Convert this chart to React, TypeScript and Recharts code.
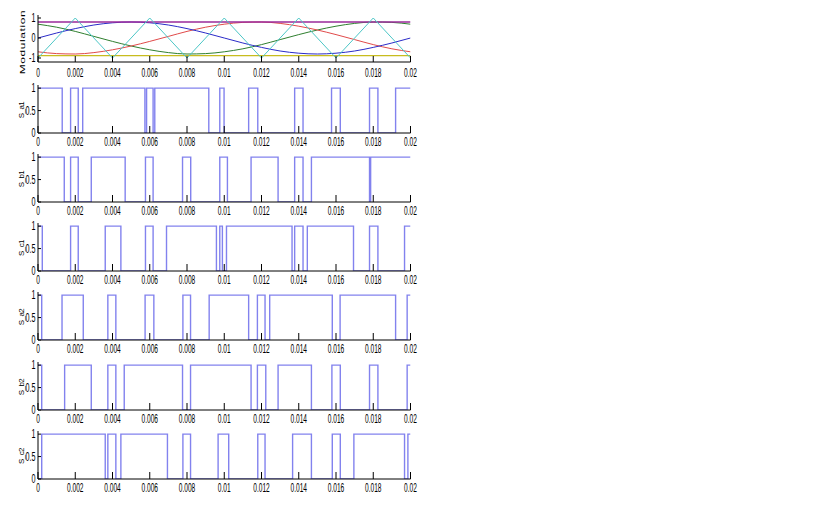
import React from 'react';
import { LineChart, Line, XAxis, YAxis } from 'recharts';

// ---------- axis ticks ----------
const xTicks = [0, 0.002, 0.004, 0.006, 0.008, 0.01, 0.012, 0.014, 0.016, 0.018, 0.02];
const xTickLabels = ['0', '0.002', '0.004', '0.006', '0.008', '0.01', '0.012', '0.014', '0.016', '0.018', '0.02'];
const modTicks = [-1, 0, 1];
const modTickLabels = ['-1', '0', '1'];
const stepTicks = [0, 0.5, 1];
const stepTickLabels = ['0', '0.5', '1'];

// ---------- modulation panel ----------
const sampleTimes = [0, 0.001, 0.002, 0.003, 0.004, 0.005, 0.006, 0.007, 0.008, 0.009, 0.01, 0.011, 0.012, 0.013, 0.014, 0.015, 0.016, 0.017, 0.018, 0.019, 0.02];
const blueVals = [0, 0.25, 0.47, 0.65, 0.76, 0.8, 0.76, 0.65, 0.47, 0.25, 0, -0.25, -0.47, -0.65, -0.76, -0.8, -0.76, -0.65, -0.47, -0.25, 0];
const redVals = [-0.69, -0.78, -0.8, -0.73, -0.59, -0.4, -0.17, 0.08, 0.33, 0.54, 0.69, 0.78, 0.8, 0.73, 0.59, 0.4, 0.17, -0.08, -0.33, -0.54, -0.69];
const greenVals = [0.69, 0.54, 0.33, 0.08, -0.17, -0.4, -0.59, -0.73, -0.8, -0.78, -0.69, -0.54, -0.33, -0.08, 0.17, 0.4, 0.59, 0.73, 0.8, 0.78, 0.69];
const carrierTimes = [0, 0.002, 0.004, 0.006, 0.008, 0.01, 0.012, 0.014, 0.016, 0.018, 0.02];
const carrierVals = [-1, 1, -1, 1, -1, 1, -1, 1, -1, 1, -1];
const upperLevel = [0.8, 0.8];
const lowerLevel = [-0.88, -0.88];
const levelTimes = [0, 0.02];

// ---------- switching signals: initial state + switching instants ----------
const sa1Init = 1;
const sa1Switch = [0.0013, 0.00175, 0.00216, 0.0024, 0.00574, 0.00583, 0.00618, 0.00627, 0.00917, 0.00976, 0.00999, 0.01131, 0.0118, 0.01378, 0.01423, 0.01576, 0.01623, 0.0178, 0.01825, 0.0192];
const sb1Init = 1;
const sb1Switch = [0.00141, 0.00175, 0.00216, 0.00286, 0.00468, 0.00577, 0.00618, 0.00776, 0.0082, 0.00976, 0.01017, 0.01144, 0.01289, 0.01378, 0.01423, 0.01468, 0.0178, 0.01786];
const sc1Init = 1;
const sc1Switch = [0.00023, 0.00175, 0.00216, 0.00361, 0.00445, 0.00577, 0.00618, 0.0069, 0.00958, 0.00976, 0.0099, 0.01012, 0.01364, 0.01378, 0.01423, 0.01446, 0.01694, 0.0178, 0.01825, 0.01968];
const sa2Init = 1;
const sa2Switch = [0.0002, 0.00129, 0.00243, 0.00375, 0.00418, 0.00575, 0.00622, 0.00778, 0.00819, 0.00919, 0.01131, 0.01178, 0.01219, 0.01244, 0.0158, 0.01622, 0.0192, 0.01982];
const sb2Init = 1;
const sb2Switch = [0.0002, 0.00143, 0.00286, 0.00375, 0.00418, 0.00463, 0.00776, 0.00819, 0.01144, 0.01178, 0.01223, 0.01289, 0.01468, 0.01578, 0.01623, 0.0178, 0.01825, 0.01982];
const sc2Init = 0;
const sc2Switch = [0.0002, 0.00361, 0.00375, 0.00418, 0.00445, 0.00695, 0.00778, 0.00819, 0.00967, 0.01024, 0.0118, 0.01219, 0.01367, 0.01468, 0.0158, 0.01623, 0.01696, 0.01968, 0.01986];

const stepLabels = ['S_a1', 'S_b1', 'S_c1', 'S_a2', 'S_b2', 'S_c2'];

// ---------- helpers ----------
const zipSeries = (ts: number[], vs: number[]) => ts.map((t, i) => ({ t, v: vs[i] }));
const buildSteps = (init: number, sw: number[]) => {
  const out = [{ t: 0, v: init }];
  let v = init;
  sw.forEach((t) => {
    v = 1 - v;
    out.push({ t, v });
  });
  out.push({ t: 0.02, v });
  return out;
};

const stepSeries = [
  buildSteps(sa1Init, sa1Switch),
  buildSteps(sb1Init, sb1Switch),
  buildSteps(sc1Init, sc1Switch),
  buildSteps(sa2Init, sa2Switch),
  buildSteps(sb2Init, sb2Switch),
  buildSteps(sc2Init, sc2Switch),
];

// ---------- layout ----------
const CHART_W = 430;
const Y_AXIS_W = 38;
const RIGHT_M = 19.5;
const STEP_BOTTOMS = [133, 202, 271, 340, 410, 479];
const STEP_PLOT_H = 48;
const TOP_PLOT_TOP = 15;
const TOP_PLOT_H = 47;
const X_AXIS_H = 18;
const FONT = 'Liberation Sans, Arial, Helvetica, sans-serif';

const makeXTick = (len: number, base: number) => (props: any) => {
  const { x, y, payload } = props;
  const idx = xTicks.findIndex((v) => Math.abs(v - payload.value) < 1e-9);
  const label = idx >= 0 ? xTickLabels[idx] : String(payload.value);
  return (
    <g>
      <line x1={x} x2={x} y1={y} y2={y - len} stroke="#000" strokeWidth={1} />
      <text
        transform={`translate(${x},${y + base}) scale(0.55,1)`}
        textAnchor="middle"
        fontSize={12}
        fontFamily={FONT}
        fill="#000"
      >
        {label}
      </text>
    </g>
  );
};

const makeYTick = (ticks: number[], labels: string[]) => (props: any) => {
  const { x, y, payload } = props;
  const idx = ticks.findIndex((v) => Math.abs(v - payload.value) < 1e-9);
  const label = idx >= 0 ? labels[idx] : String(payload.value);
  return (
    <g>
      <line x1={x} x2={x + 3} y1={y} y2={y} stroke="#000" strokeWidth={1} />
      <text
        transform={`translate(${x - 2.5},${y + 4}) scale(0.6,1)`}
        textAnchor="end"
        fontSize={12}
        fontFamily={FONT}
        fill="#000"
      >
        {label}
      </text>
    </g>
  );
};

const xTickTop = makeXTick(6, 15);
const xTickStep = makeXTick(7, 13);
const yTickMod = makeYTick(modTicks, modTickLabels);
const yTickStep = makeYTick(stepTicks, stepTickLabels);

export default function App() {
  return (
    <div style={{ position: 'absolute', left: 0, top: 0, width: 819, height: 526, background: '#fff', overflow: 'hidden' }}>
      {/* Modulation panel */}
      <div style={{ position: 'absolute', left: 0, top: 0 }}>
        <LineChart
          width={CHART_W}
          height={TOP_PLOT_TOP + TOP_PLOT_H + X_AXIS_H}
          margin={{ top: TOP_PLOT_TOP, right: RIGHT_M, bottom: 0, left: 0 }}
        >
          <XAxis
            dataKey="t"
            type="number"
            domain={[0, 0.02]}
            ticks={xTicks}
            interval={0}
            height={X_AXIS_H}
            tickSize={0}
            tickMargin={0}
            tick={xTickTop}
            axisLine={{ stroke: '#000', strokeWidth: 1 }}
            allowDataOverflow
          />
          <YAxis
            type="number"
            domain={[-1.2, 1.15]}
            ticks={modTicks}
            interval={0}
            width={Y_AXIS_W}
            tickSize={0}
            tickMargin={0}
            tick={yTickMod}
            axisLine={{ stroke: '#000', strokeWidth: 1 }}
            allowDataOverflow
          />
          <Line data={zipSeries(levelTimes, lowerLevel)} dataKey="v" type="linear" stroke="#c8bc1e" strokeWidth={1.3} dot={false} isAnimationActive={false} />
          <Line data={zipSeries(sampleTimes, greenVals)} dataKey="v" type="monotone" stroke="#2f7f2f" strokeWidth={1} dot={false} isAnimationActive={false} />
          <Line data={zipSeries(sampleTimes, redVals)} dataKey="v" type="monotone" stroke="#e04a4a" strokeWidth={1} dot={false} isAnimationActive={false} />
          <Line data={zipSeries(sampleTimes, blueVals)} dataKey="v" type="monotone" stroke="#2b2bc8" strokeWidth={1} dot={false} isAnimationActive={false} />
          <Line data={zipSeries(levelTimes, upperLevel)} dataKey="v" type="linear" stroke="#9a2a9a" strokeWidth={1.3} dot={false} isAnimationActive={false} />
          <Line data={zipSeries(carrierTimes, carrierVals)} dataKey="v" type="linear" stroke="#4cc6c6" strokeWidth={1} dot={false} isAnimationActive={false} />
        </LineChart>
      </div>

      {/* Switching panels */}
      {stepSeries.map((series, i) => {
        const b = STEP_BOTTOMS[i];
        const mt = 4;
        return (
          <div key={i} style={{ position: 'absolute', left: 0, top: b - STEP_PLOT_H - mt }}>
            <LineChart
              width={CHART_W}
              height={mt + STEP_PLOT_H + X_AXIS_H}
              margin={{ top: mt, right: RIGHT_M, bottom: 0, left: 0 }}
            >
              <XAxis
                dataKey="t"
                type="number"
                domain={[0, 0.02]}
                ticks={xTicks}
                interval={0}
                height={X_AXIS_H}
                tickSize={0}
                tickMargin={0}
                tick={xTickStep}
                axisLine={{ stroke: '#000', strokeWidth: 1 }}
                allowDataOverflow
              />
              <YAxis
                type="number"
                domain={[0, 1.07]}
                ticks={stepTicks}
                interval={0}
                width={Y_AXIS_W}
                tickSize={0}
                tickMargin={0}
                tick={yTickStep}
                axisLine={{ stroke: '#000', strokeWidth: 1 }}
                allowDataOverflow
              />
              <Line data={series} dataKey="v" type="stepAfter" stroke="#8282ee" strokeWidth={1.4} dot={false} isAnimationActive={false} />
            </LineChart>
          </div>
        );
      })}

      {/* Axis titles */}
      <svg width={819} height={526} style={{ position: 'absolute', left: 0, top: 0, pointerEvents: 'none' }}>
        <text
          transform={`translate(24.5,42) scale(0.62,1) rotate(-90)`}
          textAnchor="middle"
          fontSize={12}
          letterSpacing={0.6}
          fontFamily={FONT}
          fill="#000"
        >
          Modulation
        </text>
        {stepLabels.map((lab, i) => (
          <text
            key={lab}
            transform={`translate(23.5,${STEP_BOTTOMS[i] - 23}) rotate(-90)`}
            textAnchor="middle"
            fontSize={8}
            letterSpacing={-0.6}
            fontFamily={FONT}
            fill="#000"
          >
            {lab}
          </text>
        ))}
      </svg>
    </div>
  );
}
